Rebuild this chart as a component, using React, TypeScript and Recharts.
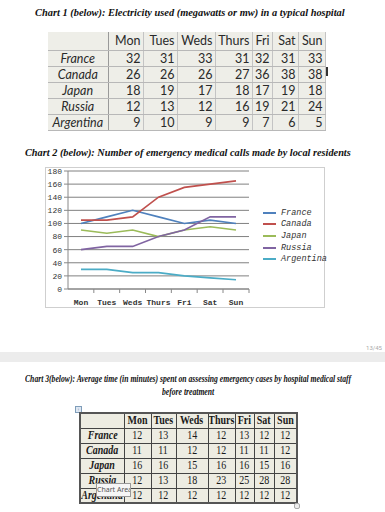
import React from 'react';
import { LineChart, Line, XAxis, YAxis, CartesianGrid } from 'recharts';

const DAYS = ['Mon', 'Tues', 'Weds', 'Thurs', 'Fri', 'Sat', 'Sun'];
const COUNTRIES = ['France', 'Canada', 'Japan', 'Russia', 'Argentina'];
const COLORS = ['#4f81bd', '#c0504d', '#9bbb59', '#8064a2', '#4bacc6'];

// chart 1: electricity (mw)
const POWER_FRANCE = [32, 31, 33, 31, 32, 31, 33];
const POWER_CANADA = [26, 26, 26, 27, 36, 38, 38];
const POWER_JAPAN = [18, 19, 17, 18, 17, 19, 18];
const POWER_RUSSIA = [12, 13, 12, 16, 19, 21, 24];
const POWER_ARGENTINA = [9, 10, 9, 9, 7, 6, 5];

// chart 2: emergency calls
const CALLS_FRANCE = [100, 110, 120, 110, 100, 105, 100];
const CALLS_CANADA = [105, 105, 110, 140, 155, 160, 165];
const CALLS_JAPAN = [90, 85, 90, 80, 90, 95, 90];
const CALLS_RUSSIA = [60, 65, 65, 80, 90, 110, 110];
const CALLS_ARGENTINA = [30, 30, 25, 25, 20, 17, 14];
const CALL_TICKS = [0, 20, 40, 60, 80, 100, 120, 140, 160, 180];

// chart 3: minutes assessing
const TIME_FRANCE = [12, 13, 14, 12, 13, 12, 12];
const TIME_CANADA = [11, 11, 12, 12, 11, 11, 12];
const TIME_JAPAN = [16, 16, 15, 16, 16, 15, 16];
const TIME_RUSSIA = [12, 13, 18, 23, 25, 28, 28];
const TIME_ARGENTINA = [12, 12, 12, 12, 12, 12, 12];

const POWER = [POWER_FRANCE, POWER_CANADA, POWER_JAPAN, POWER_RUSSIA, POWER_ARGENTINA];
const CALLS = [CALLS_FRANCE, CALLS_CANADA, CALLS_JAPAN, CALLS_RUSSIA, CALLS_ARGENTINA];
const TIMES = [TIME_FRANCE, TIME_CANADA, TIME_JAPAN, TIME_RUSSIA, TIME_ARGENTINA];

const callData = DAYS.map((d, i) => {
  const row: any = { day: d };
  COUNTRIES.forEach((c, k) => (row[c] = CALLS[k][i]));
  return row;
});

const serif = '"Liberation Serif", "DejaVu Serif", serif';
const mono = '"Liberation Mono", "DejaVu Sans Mono", monospace';

const Title = ({ top, left, size, scale, children }: any) => (
  <div
    style={{
      position: 'absolute',
      top,
      left,
      fontFamily: serif,
      fontWeight: 'bold',
      fontStyle: 'italic',
      fontSize: size,
      whiteSpace: 'nowrap',
      color: '#111',
      transform: `scaleX(${scale})`,
      transformOrigin: 'left top',
      lineHeight: 1,
    }}
  >
    {children}
  </div>
);

const T1_COLS = [60, 35, 34, 38, 37, 20, 26, 27];
const sum = (a: number[]) => a.reduce((s, v) => s + v, 0);

function PowerTable() {
  const cell = (w: number, extra: any = {}) => ({
    width: w,
    height: 16,
    padding: '0 2px 0 0',
    borderRight: '1px solid #c4c4c4',
    borderBottom: '1px solid #b8b8b8',
    boxSizing: 'border-box' as const,
    textAlign: 'right' as const,
    whiteSpace: 'nowrap' as const,
    overflow: 'visible',
    ...extra,
  });
  return (
    <table
      style={{
        position: 'absolute',
        top: 32,
        left: 48,
        width: sum(T1_COLS),
        borderCollapse: 'collapse',
        tableLayout: 'fixed',
        background: '#eeeee8',
        fontFamily: 'Lato, "Open Sans", sans-serif',
        fontSize: 12.5,
        color: '#2a2a2a',
        lineHeight: '15px',
      }}
    >
      <colgroup>
        {T1_COLS.map((w, i) => (
          <col key={i} style={{ width: w }} />
        ))}
      </colgroup>
      <tbody>
        <tr style={{ height: 18 }}>
          {T1_COLS.map((w, i) => (
            <td key={i} style={cell(w, { height: 18, borderRight: i === 0 ? '1px solid #999' : '1px solid #c4c4c4' })}>
              {i === 0 ? '' : DAYS[i - 1]}
            </td>
          ))}
        </tr>
        {COUNTRIES.map((c, r) => (
          <tr key={c}>
            <td style={cell(T1_COLS[0], { fontStyle: 'italic', textAlign: 'center', padding: 0, borderRight: '1px solid #999' })}>{c}</td>
            {POWER[r].map((v, i) => (
              <td key={i} style={cell(T1_COLS[i + 1])}>
                {v}
              </td>
            ))}
          </tr>
        ))}
      </tbody>
    </table>
  );
}

const T3_COLS = [44, 27, 25, 32, 27, 19, 20, 23];

function TimeTable() {
  const cell = (w: number, extra: any = {}) => ({
    width: w,
    height: 15,
    padding: 0,
    border: '1px solid #444',
    boxSizing: 'border-box' as const,
    textAlign: 'center' as const,
    whiteSpace: 'nowrap' as const,
    overflow: 'hidden',
    ...extra,
  });
  const squeeze = (t: any) => (
    <span style={{ display: 'inline-block', transform: 'scaleX(0.8)', margin: '0 -6px' }}>{t}</span>
  );
  return (
    <table
      style={{
        position: 'absolute',
        top: 412,
        left: 79,
        width: sum(T3_COLS),
        borderCollapse: 'collapse',
        tableLayout: 'fixed',
        background: '#edece2',
        fontFamily: serif,
        fontSize: 12.5,
        color: '#1a1a1a',
        lineHeight: '13px',
        border: '2px solid #555',
      }}
    >
      <colgroup>
        {T3_COLS.map((w, i) => (
          <col key={i} style={{ width: w }} />
        ))}
      </colgroup>
      <tbody>
        <tr>
          {T3_COLS.map((w, i) => (
            <td key={i} style={cell(w, { fontWeight: 'bold' })}>
              {i === 0 ? '' : squeeze(DAYS[i - 1])}
            </td>
          ))}
        </tr>
        {COUNTRIES.map((c, r) => (
          <tr key={c}>
            <td style={cell(T3_COLS[0], { fontWeight: 'bold', fontStyle: 'italic' })}>{squeeze(c)}</td>
            {TIMES[r].map((v, i) => (
              <td key={i} style={cell(T3_COLS[i + 1])}>
                {squeeze(v)}
              </td>
            ))}
          </tr>
        ))}
      </tbody>
    </table>
  );
}

const HALF_BAND = 13;

const DayTick = (props: any) => {
  const { x, y, payload, index } = props;
  return (
    <g>
      {index > 0 && <line x1={x - HALF_BAND} x2={x - HALF_BAND} y1={y} y2={y + 4} stroke="#888" />}
      {index === DAYS.length - 1 && <line x1={x + HALF_BAND} x2={x + HALF_BAND} y1={y} y2={y + 4} stroke="#888" />}
      <text x={x} y={y + 16} textAnchor="middle" fontFamily={mono} fontSize={8} fontWeight="bold" fill="#333">
        {payload.value}
      </text>
    </g>
  );
};

function CallsChart() {
  return (
    <div
      style={{
        position: 'absolute',
        top: 167,
        left: 45,
        width: 280,
        height: 141,
        border: '1px solid #cfcfcf',
        boxSizing: 'border-box',
        background: '#fff',
      }}
    >
      <LineChart width={278} height={139} data={callData} margin={{ top: 3, right: 75, bottom: 4, left: 4 }}>
        <CartesianGrid vertical={false} stroke="#808080" />
        <XAxis
          dataKey="day"
          stroke="#888"
          tickLine={false}
          tickSize={0}
          tickMargin={0}
          height={14}
          interval={0}
          padding={{ left: HALF_BAND, right: HALF_BAND }}
          tick={<DayTick />}
        />
        <YAxis
          domain={[0, 180]}
          ticks={CALL_TICKS}
          interval={0}
          width={18}
          stroke="#888"
          tickSize={4}
          tickMargin={2}
          tick={{ fontFamily: mono, fontSize: 8, fill: '#333' }}
        />
        {COUNTRIES.map((c, i) => (
          <Line
            key={c}
            dataKey={c}
            type="linear"
            stroke={COLORS[i]}
            strokeWidth={1.6}
            dot={false}
            isAnimationActive={false}
          />
        ))}
      </LineChart>
      <div style={{ position: 'absolute', left: 217, top: 39 }}>
        {COUNTRIES.map((c, i) => (
          <div key={c} style={{ display: 'flex', alignItems: 'center', height: 11.6 }}>
            <div style={{ width: 13, height: 2, background: COLORS[i], marginRight: 5 }} />
            <span style={{ fontFamily: mono, fontStyle: 'italic', fontSize: 8.5, color: '#333' }}>{c}</span>
          </div>
        ))}
      </div>
    </div>
  );
}

export default function App() {
  return (
    <div style={{ position: 'absolute', left: 0, top: 0, width: 385, height: 512, background: '#fff', overflow: 'hidden' }}>
      <Title top={8} left={35} size={10.4} scale={1}>
        Chart 1 (below): Electricity used (megawatts or mw) in a typical hospital
      </Title>
      <PowerTable />
      <div style={{ position: 'absolute', left: 326, top: 67, width: 2, height: 9, background: '#333' }} />

      <Title top={148} left={25} size={10.3} scale={1}>
        Chart 2 (below): Number of emergency medical calls made by local residents
      </Title>
      <CallsChart />

      <div style={{ position: 'absolute', right: 3, top: 344, fontFamily: 'Roboto, sans-serif', fontSize: 6, color: '#aaa' }}>
        13/45
      </div>
      <div style={{ position: 'absolute', left: 0, top: 352, width: 385, height: 10, background: '#ececec' }} />

      <Title top={374} left={25} size={10.5} scale={0.73}>
        Chart 3(below): Average time (in minutes) spent on assessing emergency cases by hospital medical staff
      </Title>
      <Title top={387} left={162} size={10.5} scale={0.73}>
        before treatment
      </Title>

      <div
        style={{
          position: 'absolute',
          left: 75,
          top: 406,
          width: 5,
          height: 5,
          border: '1px solid #7f9db9',
          background: '#dde7f3',
          fontSize: 5,
          lineHeight: '5px',
          textAlign: 'center',
          color: '#335',
        }}
      >
        +
      </div>
      <TimeTable />
      <div
        style={{
          position: 'absolute',
          left: 96,
          top: 483,
          width: 35,
          height: 14,
          boxSizing: 'border-box',
          border: '1px solid #999',
          background: '#f6f6f6',
          fontFamily: '"Noto Sans", sans-serif',
          fontSize: 7,
          color: '#555',
          lineHeight: '12px',
          textAlign: 'center',
          whiteSpace: 'nowrap',
          overflow: 'hidden',
        }}
      >
        Chart Area
      </div>
      <div
        style={{
          position: 'absolute',
          left: 294,
          top: 503,
          width: 4,
          height: 4,
          borderRadius: 2,
          border: '1px solid #aaa',
          background: '#eee',
        }}
      />
    </div>
  );
}
